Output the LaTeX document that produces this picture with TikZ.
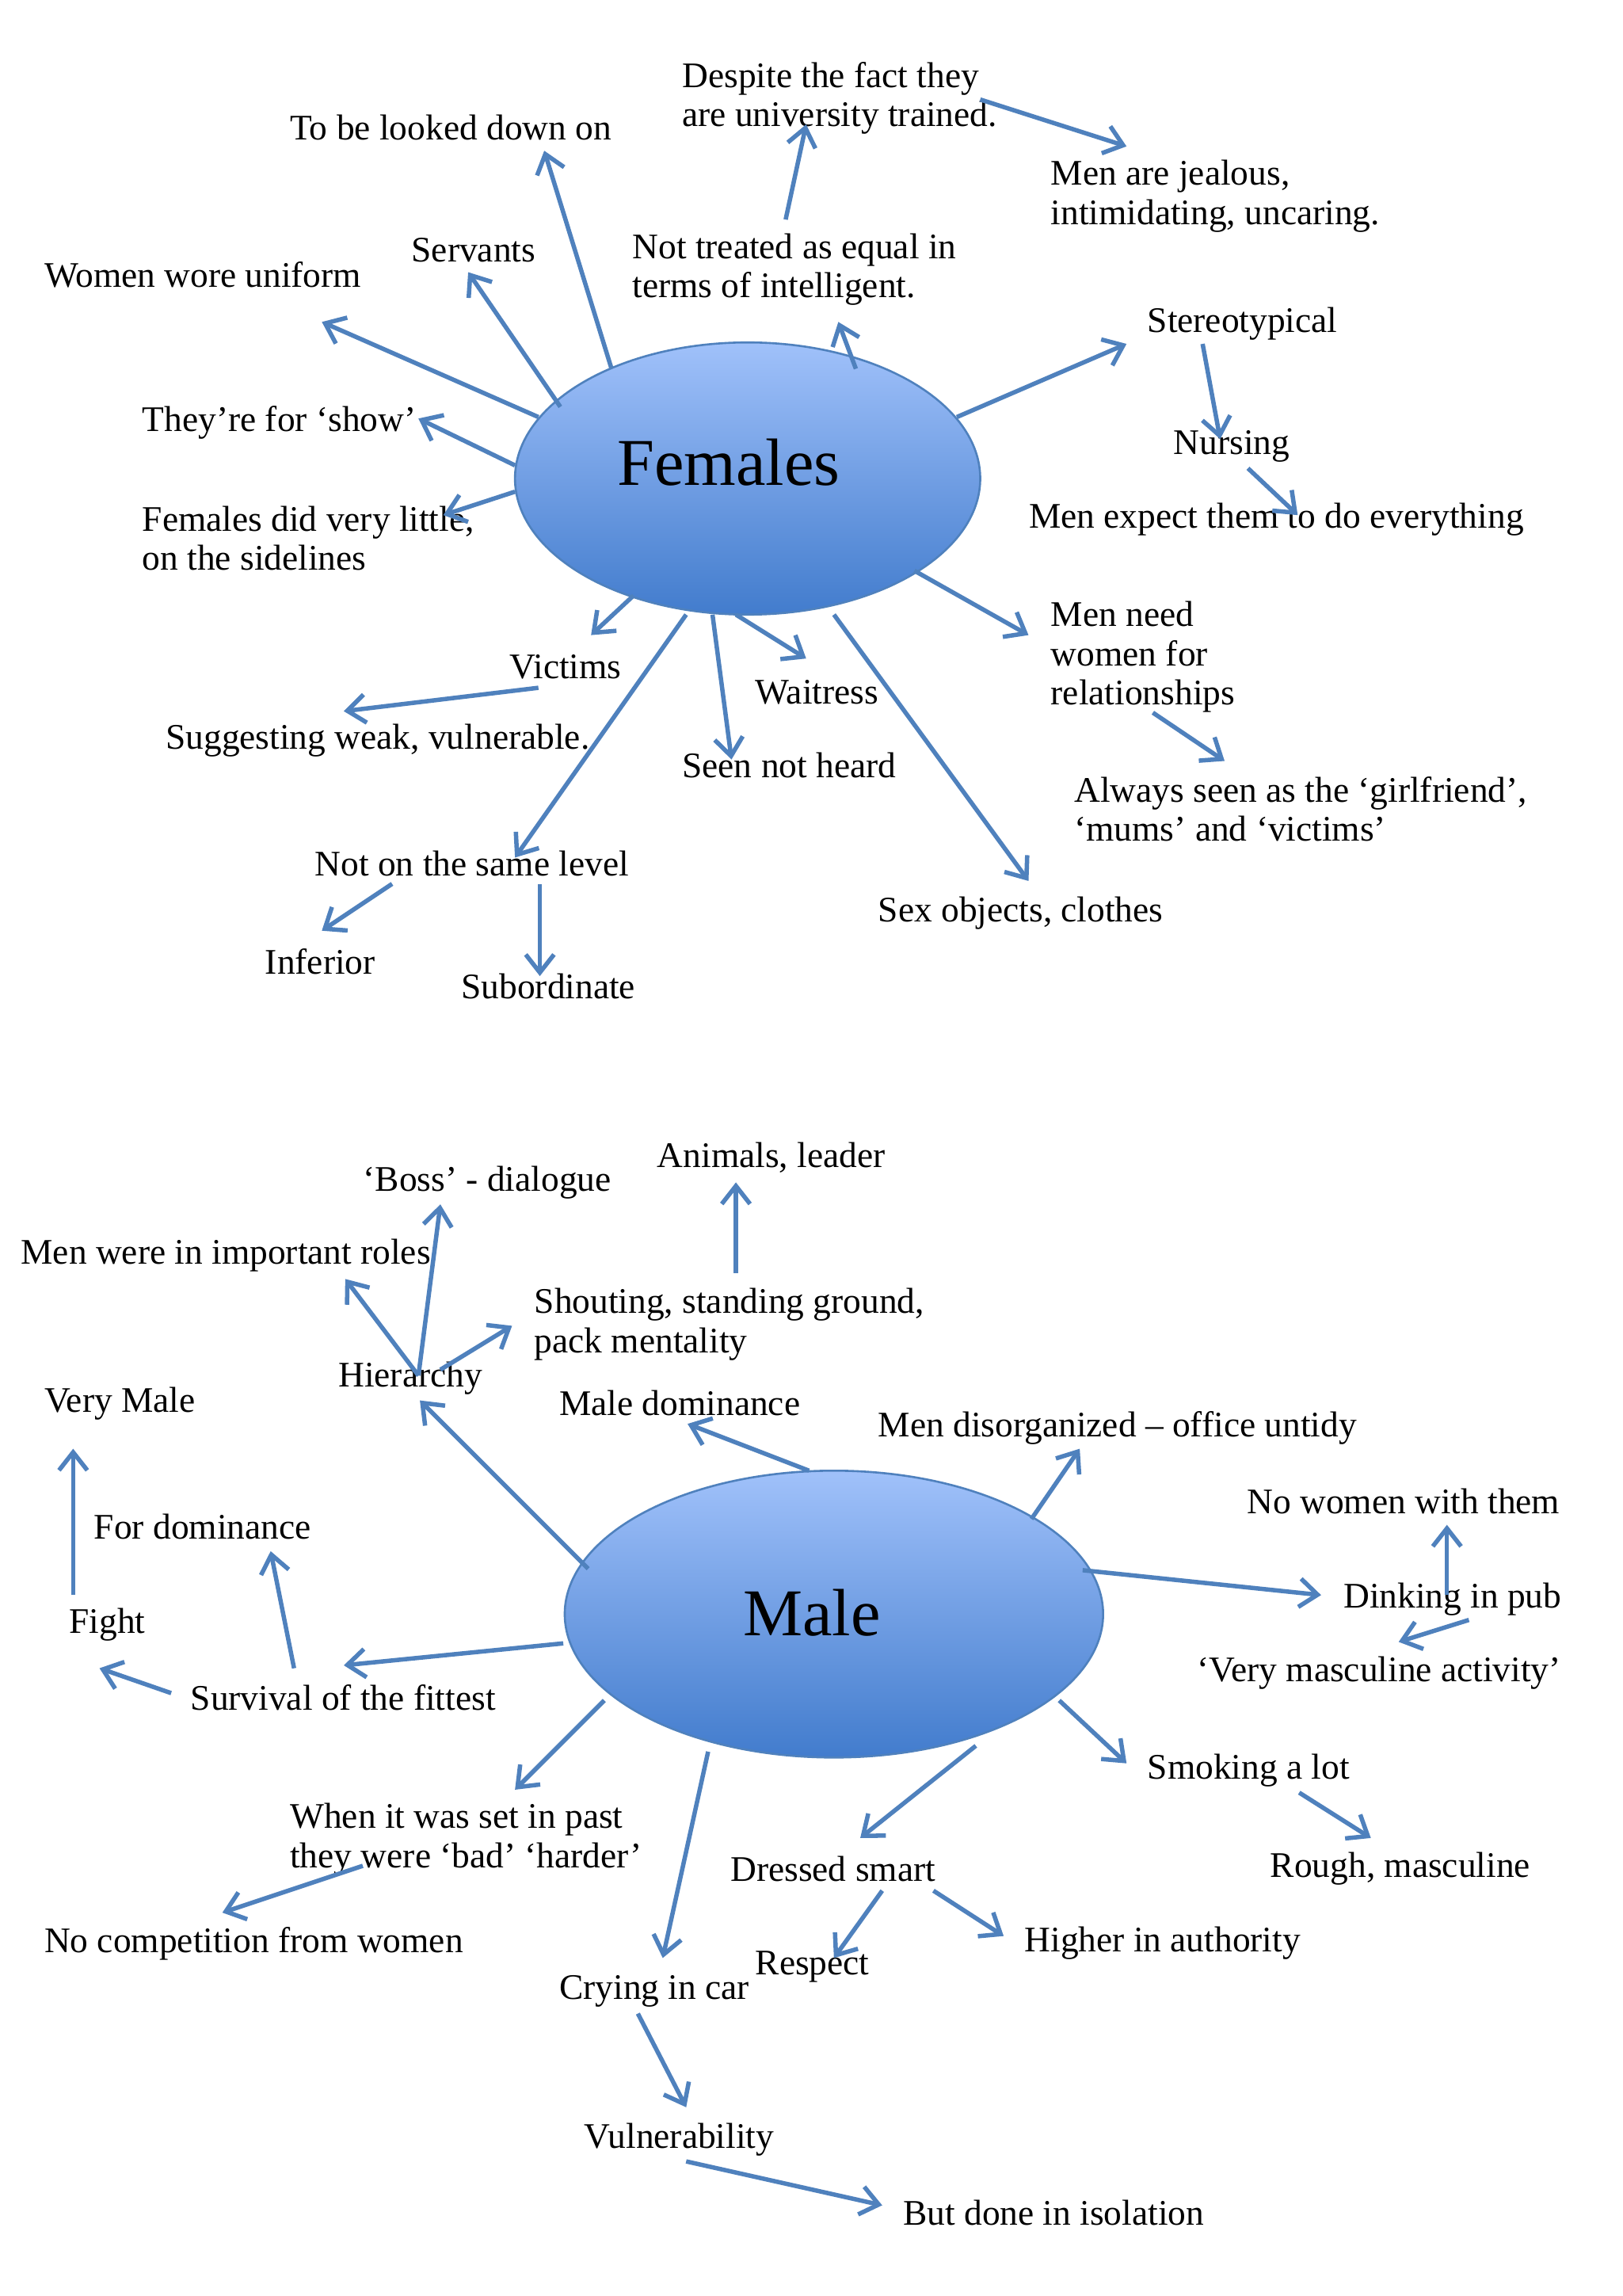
\documentclass[tikz,border=0pt]{standalone}
\usepackage{fontspec}
\setmainfont{Liberation Serif}
\usetikzlibrary{arrows.meta}
\definecolor{arr}{RGB}{79,129,189}
\definecolor{eltop}{RGB}{160,193,250}
\definecolor{elbot}{RGB}{66,124,205}
\begin{document}
\begin{tikzpicture}[x=0.02cm,y=-0.02cm,
  t/.style={anchor=west,inner sep=0pt,align=left,font=\fontsize{14}{15.2}\selectfont},
  a/.style={draw=arr,line width=1.7pt,-{Straight Barb[length=7pt,width=11pt]}},
  el/.style={draw=arr,line width=0.8pt,top color=eltop,bottom color=elbot,shading angle=0}]
\useasboundingbox (0,0) rectangle (1109,1569);
\fill[white] (0,0) rectangle (1109,1569);
% Females
\path[el] (511,327) ellipse [x radius=159, y radius=93];
\node (F) at (498,316) {\fontsize{26}{30}\selectfont Females};
\node[t] (n1) at (466,67) {Despite the fact they\\are university trained.};
\node[t] (n2) at (198,87) {To be looked down on};
\node[t] (n3) at (718,134) {Men are jealous,\\intimidating, uncaring.};
\node[t] (n4) at (281,171) {Servants};
\node[t] (n5) at (30,188) {Women wore uniform};
\node[t] (n6) at (432,184) {Not treated as equal in\\terms of intelligent.};
\node[t] (n7) at (784,221) {Stereotypical};
\node[t] (n8) at (97,289) {They’re for ‘show’};
\node[t] (n9) at (802,305) {Nursing};
\node[t] (n10) at (97,368) {Females did very little,\\on the sidelines};
\node[t] (n11) at (703,355) {Men expect them to do everything};
\node[t] (n12) at (718,449) {Men need\\women for\\relationships};
\node[t] (n13) at (348,456) {Victims};
\node[t] (n14) at (516,473) {Waitress};
\node[t] (n15) at (113,506) {Suggesting weak, vulnerable.};
\node[t] (n16) at (466,523) {Seen not heard};
\node[t] (n17) at (734,553) {Always seen as the ‘girlfriend’,\\‘mums’ and ‘victims’};
\node[t] (n18) at (215,590) {Not on the same level};
\node[t] (n19) at (600,624) {Sex objects, clothes};
\node[t] (n20) at (181,657) {Inferior};
\node[t] (n21) at (315,674) {Subordinate};
\foreach \xa/\ya/\xb/\yb in {537/150/551/85, 670/68/770/100, 418/252/372/103, 383/278/320/186,
  368/285/220/220, 352/318/286/286, 352/336/303/352, 585/252/573/220, 654/285/770/235,
  822/235/834/300, 853/320/887/352, 625/390/703/434, 433/407/404/434, 503/420/551/450,
  487/420/500/519, 368/470/235/486, 469/420/352/586, 570/420/703/602, 788/487/837/520,
  268/604/220/636, 369/604/369/667}
  {\draw[a] (\xa,\ya) -- (\xb,\yb);}
% Male
\path[el] (570,1103) ellipse [x radius=184, y radius=98];
\node (M) at (555,1102) {\fontsize{26}{30}\selectfont Male};
\node[t] (m1) at (449,791) {Animals, leader};
\node[t] (m2) at (248,808) {‘Boss’ - dialogue};
\node[t] (m3) at (14,858) {Men were in important roles};
\node[t] (m4) at (365,905) {Shouting, standing ground,\\pack mentality};
\node[t] (m5) at (231,942) {Hierarchy};
\node[t] (m6) at (30,959) {Very Male};
\node[t] (m7) at (382,959) {Male dominance};
\node[t] (m8) at (600,976) {Men disorganized – office untidy};
\node[t] (m9) at (852,1026) {No women with them};
\node[t] (m10) at (64,1043) {For dominance};
\node[t] (m11) at (918,1093) {Dinking in pub};
\node[t] (m12) at (47,1110) {Fight};
\node[t] (m13) at (818,1143) {‘Very masculine activity’};
\node[t] (m14) at (130,1160) {Survival of the fittest};
\node[t] (m15) at (784,1210) {Smoking a lot};
\node[t] (m16) at (198,1257) {When it was set in past\\they were ‘bad’ ‘harder’};
\node[t] (m17) at (499,1277) {Dressed smart};
\node[t] (m18) at (868,1277) {Rough, masculine};
\node[t] (m19) at (30,1328) {No competition from women};
\node[t] (m20) at (700,1328) {Higher in authority};
\node[t] (m21) at (516,1344) {Respect};
\node[t] (m22) at (382,1361) {Crying in car};
\node[t] (m23) at (399,1462) {Vulnerability};
\node[t] (m24) at (617,1512) {But done in isolation};
\foreach \xa/\ya/\xb/\yb in {503/870/503/808, 286/940/301/823, 286/940/236/874, 301/936/350/906,
  402/1072/287/957, 553/1005/470/973, 705/1038/738/990, 50/1090/50/990, 201/1140/185/1060,
  117/1157/68/1140, 385/1123/235/1138, 740/1073/903/1090, 989/1090/989/1042, 1004/1107/956/1122,
  724/1162/770/1205, 888/1225/937/1256, 413/1162/352/1223, 667/1193/588/1256, 248/1275/152/1307,
  603/1292/570/1338, 638/1292/686/1323, 484/1197/453/1338, 436/1376/469/1440, 469/1477/603/1507}
  {\draw[a] (\xa,\ya) -- (\xb,\yb);}
\end{tikzpicture}
\end{document}
